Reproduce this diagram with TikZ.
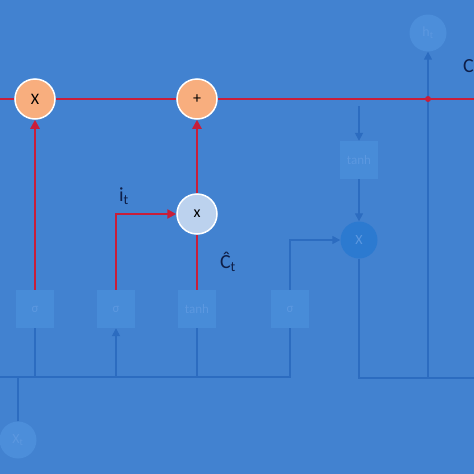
\documentclass[tikz,border=0pt]{standalone}
\usepackage{fontspec}
\setmainfont{Carlito}
\usetikzlibrary{arrows.meta,positioning}
\definecolor{bgblue}{RGB}{66,130,208}
\definecolor{boxblue}{RGB}{72,140,216}
\definecolor{dimtext}{RGB}{92,152,224}
\definecolor{wireblue}{RGB}{44,108,192}
\definecolor{darkop}{RGB}{44,122,208}
\definecolor{faintop}{RGB}{76,142,218}
\definecolor{opfill}{RGB}{248,174,126}
\definecolor{lightop}{RGB}{188,210,238}
\definecolor{cellred}{RGB}{200,30,58}
\definecolor{labelnavy}{RGB}{14,30,72}
\tikzset{
    gate/.style={
                fill=boxblue,
                minimum size=38pt,
                inner sep=0pt,
                text=dimtext,
                font=\fontsize{13}{13}\selectfont
            },
    pointop/.style={
                circle,
                draw=white,
                line width=1.5pt,
                minimum size=40pt,
                inner sep=0pt,
                font=\fontsize{16}{16}\selectfont
            },
    faint/.style={
                circle,
                minimum size=37pt,
                inner sep=0pt,
                text=dimtext,
                font=\fontsize{14}{14}\selectfont
            },
    label/.style={
                text=labelnavy,
                inner sep=0pt,
                font=\fontsize{20}{20}\selectfont
            },
    redline/.style={draw=cellred, line width=2.5pt},
    redarrow/.style={redline, -{Triangle[length=9pt,width=9pt]}},
    wire/.style={draw=wireblue, line width=1.5pt},
    wirearrow/.style={wire, -{Triangle[length=8pt,width=8pt]}},
}
\begin{document}
\begin{tikzpicture}[x=1pt,y=-1pt]
  % Background
  \fill[bgblue] (0,0) rectangle (474,474);
  \useasboundingbox (0,0) rectangle (474,474);
  % Cell state line
  \coordinate (cin) at (0,99);
  \coordinate (cout) at (474,99);
  \coordinate (bus) at (0,377);
  \coordinate (busend) at (474,378);
  % Point operations
  \node[pointop, fill=opfill] (forget) at (35,99) {X};
  \node[pointop, fill=opfill] (add) at (197,99) {+};
  \node[pointop, fill=lightop] (mult) at (197,214) {x};
  % Gates
  \node[gate] (sigf) at (35,309) {σ};
  \node[gate] (sigi) at (116,309) {σ};
  \node[gate] (tanhc) at (197,309) {tanh};
  \node[gate] (sigo) at (290,309) {σ};
  \node[gate] (tanho) at (359,160) {tanh};
  % Output side
  \node[faint, fill=darkop] (outmult) at (359,240) {X};
  \node[faint, fill=faintop] (ht) at (428,33) {h\textsubscript{t}};
  \node[faint, fill=faintop] (xt) at (18,440) {X\textsubscript{t}};
  % Labels
  \node[label] (itlab) at (124,196) {i\textsubscript{t}};
  \node[label] (chatlab) at (228,262) {Ĉ\textsubscript{t}};
  \node[label, anchor=east] (ctlab) at (474,66) {C};
  % Red connectors
  \draw[redline] (cin) -- (forget.west);
  \draw[redline] (forget.east) -- (add.west);
  \draw[redline] (add.east) -- (cout);
  \draw[redarrow] (sigf.north) -- (forget.south);
  \draw[redarrow] (sigi.north) |- (mult.west);
  \draw[redline] (tanhc.north) -- (mult.south);
  \draw[redarrow] (mult.north) -- (add.south);
  % Blue wires
  \draw[wire] (bus) -| (sigo.south);
  \draw[wire] (sigf.south) -- (sigf.south |- bus);
  \draw[wirearrow] (sigi.south |- bus) -- (sigi.south);
  \draw[wire] (tanhc.south) -- (tanhc.south |- bus);
  \draw[wire] (xt.north) -- (xt.north |- bus);
  \draw[wirearrow] (sigo.north) |- (outmult.west);
  \draw[wirearrow] (tanho.north |- 0,106) -- (tanho.north);
  \draw[wirearrow] (tanho.south) -- (outmult.north);
  \draw[wire] (outmult.south) |- (busend);
  \draw[wirearrow] (ht.south |- busend) -- (ht.south);
  \fill[cellred] (ht.south |- cout) circle (3pt);
\end{tikzpicture}
\end{document}
